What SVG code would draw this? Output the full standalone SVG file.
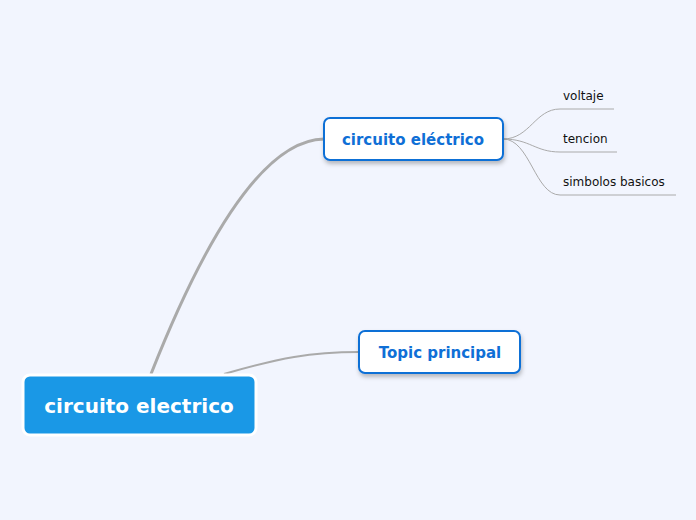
<svg xmlns="http://www.w3.org/2000/svg" width="696" height="520" viewBox="0 0 696 520">
<defs>
<style>
.sub{fill:#fff;stroke:#0f6fd6;stroke-width:2}
.subt{font-family:"DejaVu Sans",sans-serif;font-weight:bold;font-size:15px;fill:#0f6fd6;text-anchor:middle}
.leaf{font-family:"DejaVu Sans",sans-serif;font-size:12px;fill:#111}
.c{fill:none;stroke:#aaa}
</style>
<filter id="sh" x="-10%" y="-20%" width="120%" height="150%"><feDropShadow dx="1" dy="3" stdDeviation="2" flood-color="#000" flood-opacity="0.25"/></filter>
</defs>
<rect width="696" height="520" fill="#f2f5fe"/>
<g id="connectors">
<path class="c" stroke-width="3" d="M151 374 C200 250 260 140 324 139"/>
<path class="c" stroke-width="2" d="M224 374 C280 358 310 352 359 352"/>
<path class="c" d="M503 139 C530 139 535 109 560 109 L614 109"/>
<path class="c" d="M503 139 C530 139 535 152 560 152 L617 152"/>
<path class="c" d="M503 139 C530 139 535 195 560 195 L676 195"/>
</g>
<g id="root">
<rect x="23" y="375" width="233" height="60" rx="7" fill="#1a98e6" stroke="#fff" stroke-width="3"/>
<text x="139" y="413" font-family="DejaVu Sans,sans-serif" font-weight="bold" font-size="20" fill="#fff" text-anchor="middle">circuito electrico</text>
</g>
<g id="n1"><rect class="sub" filter="url(#sh)" x="324" y="118" width="179" height="42" rx="6"/><text class="subt" x="413" y="145">circuito eléctrico</text></g>
<g id="n2"><rect class="sub" filter="url(#sh)" x="359" y="331" width="161" height="42" rx="6"/><text class="subt" x="440" y="358">Topic principal</text></g>
<g id="l1"><text class="leaf" x="563" y="100">voltaje</text></g>
<g id="l2"><text class="leaf" x="563" y="143">tencion</text></g>
<g id="l3"><text class="leaf" x="563" y="186">simbolos basicos</text></g>
</svg>
